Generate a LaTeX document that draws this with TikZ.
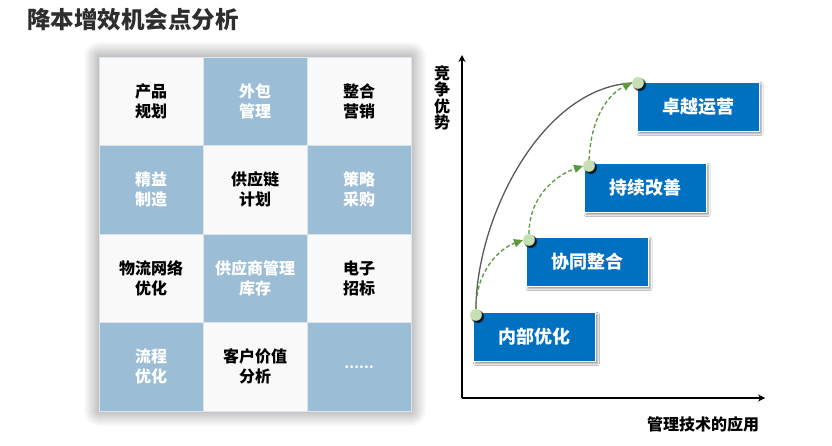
\documentclass[tikz,border=0pt]{standalone}
\usepackage{fontspec}
\setmainfont{Noto Sans CJK SC}
\usetikzlibrary{arrows.meta,shadows.blur}
\definecolor{cellblue}{HTML}{9BBDD6}
\definecolor{cellwhite}{HTML}{F9F9F9}
\definecolor{gridline}{HTML}{DCE5ED}
\definecolor{boxblue}{HTML}{0070C0}
\definecolor{dotgreen}{HTML}{C6E0B4}
\definecolor{arrgreen}{HTML}{5A9A3C}
\definecolor{titlegray}{HTML}{2E2E2E}
\begin{document}
\begin{tikzpicture}[x=1pt,y=-1pt,
  cell/.style={rectangle,draw=gridline,line width=0.8pt,minimum width=104pt,minimum height=88.5pt,inner sep=0pt,align=center,font=\bfseries\fontsize{16}{20}\selectfont},
  bcell/.style={cell,fill=cellblue,text=white},
  wcell/.style={cell,fill=cellwhite,text=black},
  stage/.style={rectangle,fill=boxblue,draw=white,line width=0.8pt,minimum width=122pt,minimum height=49pt,inner sep=0pt,text=white,font=\bfseries\fontsize{18}{22}\selectfont,blur shadow={shadow xshift=2pt,shadow yshift=-2.5pt,shadow blur radius=2pt,shadow opacity=45}},
  dot/.style={circle,fill=dotgreen,draw=none,minimum size=11.5pt,inner sep=0pt,blur shadow={shadow xshift=1.8pt,shadow yshift=-1.8pt,shadow blur radius=0.6pt,shadow opacity=60}},
  garrow/.style={draw=arrgreen,line width=1.3pt,dash pattern=on 4pt off 2.5pt,-{Triangle[length=9pt,width=8pt,fill=arrgreen]}},
  axis/.style={draw=black,line width=1.2pt,-{Stealth[length=7pt,width=7pt]}},
  lab/.style={font=\bfseries\fontsize{16}{16.5}\selectfont,text=black,align=center,inner sep=0pt}]
\useasboundingbox (0,0) rectangle (832,446);
\fill[white] (0,0) rectangle (832,446);
% title
\node[anchor=west,inner sep=0pt,text=titlegray,font=\bfseries\fontsize{23.5}{26}\selectfont] (title) at (27,20) {降本增效机会点分析};
% soft grid shadow
\foreach \i in {1,...,15} {
  \fill[black,fill opacity=0.016,rounded corners=\i pt] (99-\i,57-\i) rectangle (411+\i,411+\i);
}
% cells
\node[wcell] (g11) at (151,101.25) {产品\\规划};
\node[bcell] (g12) at (255,101.25) {外包\\管理};
\node[wcell] (g13) at (359,101.25) {整合\\营销};
\node[bcell] (g21) at (151,189.75) {精益\\制造};
\node[wcell] (g22) at (255,189.75) {供应链\\计划};
\node[bcell] (g23) at (359,189.75) {策略\\采购};
\node[wcell] (g31) at (151,278.25) {物流网络\\优化};
\node[bcell] (g32) at (255,278.25) {供应商管理\\库存};
\node[wcell] (g33) at (359,278.25) {电子\\招标};
\node[bcell] (g41) at (151,366.75) {流程\\优化};
\node[wcell] (g42) at (255,366.75) {客户价值\\分析};
\node[bcell] (g43) at (359,366.75) {\raisebox{-3pt}{\fontsize{13}{14}\selectfont ……}};
% axes
\coordinate (origin) at (462,398);
\coordinate (ytop) at (462,55);
\coordinate (xend) at (765,398);
\draw[axis] (origin) -- (ytop);
\draw[axis] (origin) -- (xend);
\node[lab] (ylab) at (442,98) {竞\\争\\优\\势};
\node[lab] (xlab) at (703,424) {管理技术的应用};
% stages
\node[stage] (s1) at (534.5,336.5) {内部优化};
\node[stage] (s2) at (587,261.5) {协同整合};
\node[stage] (s3) at (645,187.5) {持续改善};
\node[stage] (s4) at (698,106.5) {卓越运营};
% dots
\node[dot] (c1) at (476,315) {};
\node[dot] (c2) at (529,240) {};
\node[dot] (c3) at (589,166) {};
\node[dot] (c4) at (638,83) {};
% gray curve
\draw[draw=black!65,line width=1.3pt] (c1.north) .. controls (476,220) and (540,88) .. (c4.west);
% green dashed arrows
\draw[garrow] (c1.north) .. controls +(0,-40) and +(-22,8) .. (c2.west);
\draw[garrow] (c2.north) .. controls +(0,-40) and +(-24,8) .. (c3.west);
\draw[garrow] (c3.north) .. controls +(2,-45) and +(-22,10) .. (c4.west);
% dots on top again
\node[dot] at (c1) {};
\node[dot] at (c2) {};
\node[dot] at (c3) {};
\node[dot] at (c4) {};
\end{tikzpicture}
\end{document}
